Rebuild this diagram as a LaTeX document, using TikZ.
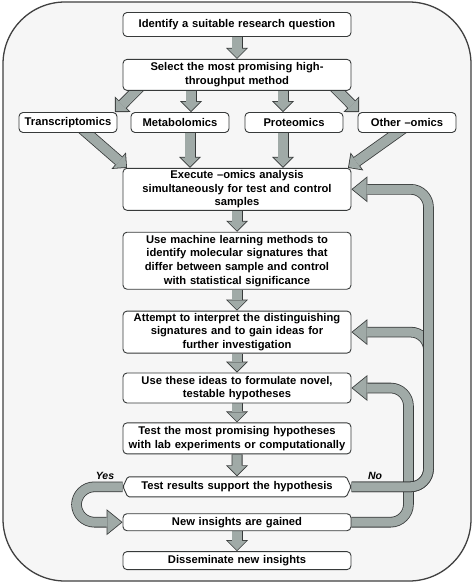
\documentclass[tikz,border=0pt]{standalone}
\usepackage{fontspec}
\setmainfont{Liberation Sans}
\usetikzlibrary{positioning,calc,arrows.meta,shapes.symbols,backgrounds}

\definecolor{arrowgrey}{RGB}{160,170,167}
\definecolor{edgegrey}{RGB}{55,58,58}
\definecolor{framefill}{RGB}{246,246,246}

\tikzset{
  box/.style={draw=edgegrey, line width=0.9pt, fill=white, rounded corners=4pt, align=center,
    text width=222pt, inner xsep=3pt, inner ysep=1pt, font=\bfseries\fontsize{11.2}{13.7}\selectfont},
  omicsbox/.style={box, text width=92pt, minimum height=20pt},
  decision/.style={box, rounded corners=1.5pt, signal, signal to=west and east, signal pointer angle=130,
    text width=200pt, minimum width=228pt},
  fatarrow/.style={preaction={draw=edgegrey, line width=11pt, shorten >=0pt,
      -{Triangle[length=11pt, width=22pt, line width=0pt]}},
    draw=arrowgrey, line width=9.4pt, shorten >=1.13pt,
    -{Triangle[length=9.07pt, width=18.14pt, line width=0pt]}},
  looparrow/.style={rounded corners=18pt, preaction={draw=edgegrey, line width=10.6pt, shorten >=0pt,
      -{Triangle[length=16pt, width=26pt, line width=0pt]}},
    draw=arrowgrey, line width=9pt, shorten >=1.27pt,
    -{Triangle[length=13.93pt, width=22.6pt, line width=0pt]}},
  lbl/.style={font=\bfseries\itshape\fontsize{10.5}{12}\selectfont},
}

\begin{document}
\begin{tikzpicture}[x=1pt, y=-1pt]
\useasboundingbox (0,0) rectangle (474,583);

% main column
\node[box, minimum height=24pt] (identify) at (237,24.5) {Identify a suitable research question};
\node[box, minimum height=31pt, below=22pt of identify] (select) {Select the most promising high-\\throughput method};

% the -omics methods
\node[omicsbox] (trans) at (68,122.5) {Transcriptomics};
\node[omicsbox] (metab) at (180,122.5) {Metabolomics};
\node[omicsbox] (prot) at (294,122.5) {Proteomics};
\node[omicsbox] (other) at (407,122.5) {Other --omics};

\node[box, minimum height=42pt, below=77pt of select] (execute) {Execute --omics analysis\\simultaneously for test and control\\samples};
\node[box, minimum height=57pt, below=21pt of execute] (learn) {Use machine learning methods to\\identify molecular signatures that\\differ between sample and control\\with statistical significance};
\node[box, minimum height=42pt, below=21pt of learn] (attempt) {Attempt to interpret the distinguishing\\signatures and to gain ideas for\\further investigation};
\node[box, minimum height=30pt, below=19pt of attempt] (ideas) {Use these ideas to formulate novel,\\testable hypotheses};
\node[box, minimum height=31pt, below=19pt of ideas] (testing) {Test the most promising hypotheses\\with lab experiments or computationally};
\node[decision, minimum height=20pt, below=22pt of testing] (results) {Test results support the hypothesis};
\node[box, minimum height=17pt, below=16pt of results] (insights) {New insights are gained};
\node[box, minimum height=18pt, below=20pt of insights] (dissem) {Disseminate new insights};

\node[lbl] (yes) at (105,476) {Yes};
\node[lbl] (no) at (375,476) {No};

\begin{scope}[on background layer]
\draw[draw=black!75, line width=1.3pt, fill=framefill, rounded corners=62pt] (3,2) rectangle (471,581);

\draw[fatarrow] (identify) -- (select);
\draw[fatarrow] ($(select.south)+(-95,-6)$) -- ($(trans.north)+(47,0)$);
\draw[fatarrow] ($(select.south)+(-46,0)$) -- ($(metab.north)+(11,0)$);
\draw[fatarrow] ($(select.south)+(46,0)$) -- ($(prot.north)+(-11,0)$);
\draw[fatarrow] ($(select.south)+(95,-6)$) -- ($(other.north)+(-48,0)$);
\draw[fatarrow] ($(trans.south)+(12,-6)$) -- ($(execute.north)+(-110,0)$);
\draw[fatarrow] ($(metab.south)+(10,0)$) -- ($(execute.north)+(-47,0)$);
\draw[fatarrow] ($(prot.south)+(-11,0)$) -- ($(execute.north)+(46,0)$);
\draw[fatarrow] ($(other.south)+(-3,-5)$) -- ($(execute.north)+(111,0)$);
\draw[fatarrow] (execute) -- (learn);
\draw[fatarrow] (learn) -- (attempt);
\draw[fatarrow] (attempt) -- (ideas);
\draw[fatarrow] (ideas) -- (testing);
\draw[fatarrow] (testing) -- (results);
\draw[fatarrow] (insights) -- (dissem);

% feedback loops
\draw[looparrow] (insights.east) -- ++(57,0) |- (ideas.east);
\draw[looparrow] (results.east) -- ++(77,0) |- (attempt.east);
\draw[looparrow] (results.east) -- ++(77,0) |- (execute.east);
\draw[looparrow] (results.west) -- ++(-46,0) |- (insights.west);
\end{scope}
\end{tikzpicture}
\end{document}
